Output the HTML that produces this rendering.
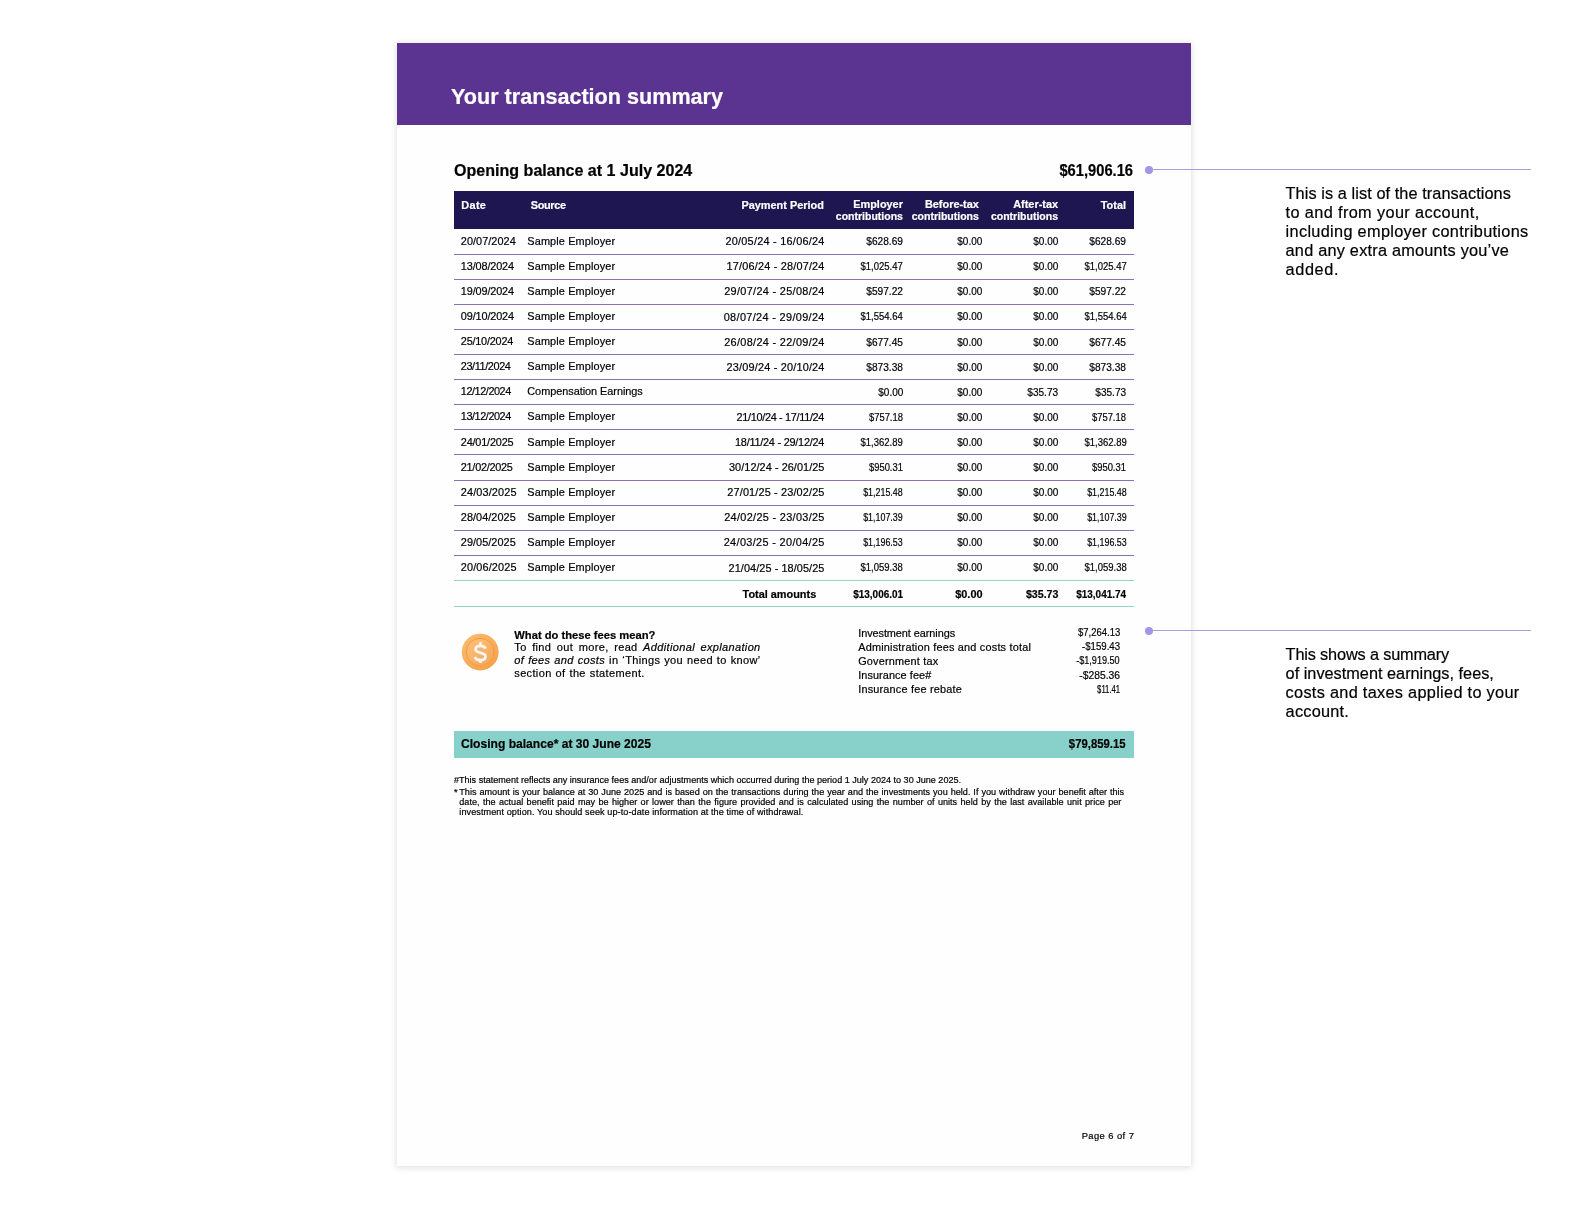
<!DOCTYPE html>
<html><head><meta charset="utf-8"><title>Your transaction summary</title>
<style>
html,body{margin:0;padding:0;background:#fff;}
body{width:1587px;height:1209px;position:relative;overflow:hidden;font-family:"Liberation Sans",sans-serif;color:#000;}
#w{position:absolute;left:0;top:0;width:1587px;height:1209px;will-change:transform;}
.page{position:absolute;left:397px;top:43px;width:794px;height:1123px;background:#fefefe;box-shadow:0 1px 6px 1px rgba(0,0,0,0.12);}
.t{position:absolute;white-space:nowrap;-webkit-text-stroke:0.2px currentColor;}
.r{position:absolute;}
</style></head><body><div id="w">
<div class="page"></div>
<div class="r" style="left:397px;top:43px;width:794px;height:82px;background:#5b3391;"></div>
<div class="t" style="top:86.02px;font-size:21.6px;line-height:21.6px;left:451.00px;font-weight:bold;color:#fff;">Your transaction summary</div>
<div class="t" style="top:162.00px;font-size:16.3px;line-height:16.3px;left:453.70px;transform:scaleX(0.9863);transform-origin:left center;font-weight:bold;">Opening balance at 1 July 2024</div>
<div class="t" style="top:162.09px;font-size:16.2px;line-height:16.2px;right:453.70px;transform:scaleX(0.9083);transform-origin:right center;font-weight:bold;">$61,906.16</div>
<div class="r" style="left:1149px;top:169.1px;width:382px;height:1px;background:#a89ce6;"></div>
<div class="r" style="left:1145px;top:165.6px;width:8px;height:8px;border-radius:50%;background:#a396e6"></div>
<div class="r" style="left:1149px;top:630.2px;width:382px;height:1px;background:#a89ce6;"></div>
<div class="r" style="left:1145px;top:626.7px;width:8px;height:8px;border-radius:50%;background:#a396e6"></div>
<div class="t" style="top:184.70px;font-size:16.3px;line-height:16.3px;left:1285.60px;letter-spacing:0.082px;">This is a list of the transactions</div>
<div class="t" style="top:203.73px;font-size:16.3px;line-height:16.3px;left:1285.60px;letter-spacing:0.374px;">to and from your account,</div>
<div class="t" style="top:222.76px;font-size:16.3px;line-height:16.3px;left:1285.60px;letter-spacing:0.323px;">including employer contributions</div>
<div class="t" style="top:241.79px;font-size:16.3px;line-height:16.3px;left:1285.60px;letter-spacing:0.225px;">and any extra amounts you’ve</div>
<div class="t" style="top:260.82px;font-size:16.3px;line-height:16.3px;left:1285.60px;letter-spacing:0.618px;">added.</div>
<div class="t" style="top:646.00px;font-size:16.3px;line-height:16.3px;left:1285.60px;letter-spacing:-0.152px;">This shows a summary</div>
<div class="t" style="top:665.03px;font-size:16.3px;line-height:16.3px;left:1285.60px;letter-spacing:0.005px;">of investment earnings, fees,</div>
<div class="t" style="top:684.06px;font-size:16.3px;line-height:16.3px;left:1285.60px;letter-spacing:0.304px;">costs and taxes applied to your</div>
<div class="t" style="top:703.09px;font-size:16.3px;line-height:16.3px;left:1285.60px;letter-spacing:0.234px;">account.</div>
<div class="r" style="left:453.5px;top:191.3px;width:680.5px;height:38.0px;background:#1e1650;"></div>
<div class="t" style="top:199.77px;font-size:10.9px;line-height:10.9px;left:461.30px;font-weight:bold;color:#fff;letter-spacing:0.33px;">Date</div>
<div class="t" style="top:199.77px;font-size:10.9px;line-height:10.9px;left:530.70px;font-weight:bold;color:#fff;letter-spacing:-0.304px;">Source</div>
<div class="t" style="top:199.77px;font-size:10.9px;line-height:10.9px;right:763.20px;font-weight:bold;color:#fff;">Payment Period</div>
<div class="t" style="top:198.87px;font-size:10.9px;line-height:10.9px;right:684.10px;font-weight:bold;color:#fff;">Employer</div>
<div class="t" style="top:210.71px;font-size:10.5px;line-height:10.5px;right:684.10px;font-weight:bold;color:#fff;">contributions</div>
<div class="t" style="top:198.87px;font-size:10.9px;line-height:10.9px;right:608.20px;font-weight:bold;color:#fff;">Before-tax</div>
<div class="t" style="top:210.71px;font-size:10.5px;line-height:10.5px;right:608.20px;font-weight:bold;color:#fff;">contributions</div>
<div class="t" style="top:198.87px;font-size:10.9px;line-height:10.9px;right:529.00px;font-weight:bold;color:#fff;">After-tax</div>
<div class="t" style="top:210.71px;font-size:10.5px;line-height:10.5px;right:529.00px;font-weight:bold;color:#fff;">contributions</div>
<div class="t" style="top:199.77px;font-size:10.9px;line-height:10.9px;right:461.00px;font-weight:bold;color:#fff;">Total</div>
<div class="t" style="top:235.77px;font-size:10.9px;line-height:10.9px;left:460.80px;letter-spacing:0.043px;">20/07/2024</div>
<div class="t" style="top:235.77px;font-size:10.9px;line-height:10.9px;left:527.30px;letter-spacing:0.139px;">Sample Employer</div>
<div class="t" style="top:236.27px;font-size:10.9px;line-height:10.9px;right:762.35px;letter-spacing:0.252px;">20/05/24 - 16/06/24</div>
<div class="t" style="top:236.11px;font-size:10.5px;line-height:10.5px;right:683.90px;transform:scaleX(0.9666);transform-origin:right center;">$628.69</div>
<div class="t" style="top:236.11px;font-size:10.5px;line-height:10.5px;right:604.60px;transform:scaleX(0.9512);transform-origin:right center;">$0.00</div>
<div class="t" style="top:236.11px;font-size:10.5px;line-height:10.5px;right:529.00px;transform:scaleX(0.9512);transform-origin:right center;">$0.00</div>
<div class="t" style="top:236.11px;font-size:10.5px;line-height:10.5px;right:460.70px;transform:scaleX(0.9666);transform-origin:right center;">$628.69</div>
<div class="r" style="left:453.5px;top:253.6px;width:680.5px;height:1.1px;background:#8c70b6;"></div>
<div class="t" style="top:260.87px;font-size:10.9px;line-height:10.9px;left:460.80px;letter-spacing:-0.135px;">13/08/2024</div>
<div class="t" style="top:260.87px;font-size:10.9px;line-height:10.9px;left:527.30px;letter-spacing:0.139px;">Sample Employer</div>
<div class="t" style="top:261.37px;font-size:10.9px;line-height:10.9px;right:762.42px;letter-spacing:0.185px;">17/06/24 - 28/07/24</div>
<div class="t" style="top:261.21px;font-size:10.5px;line-height:10.5px;right:683.90px;transform:scaleX(0.9033);transform-origin:right center;">$1,025.47</div>
<div class="t" style="top:261.21px;font-size:10.5px;line-height:10.5px;right:604.60px;transform:scaleX(0.9512);transform-origin:right center;">$0.00</div>
<div class="t" style="top:261.21px;font-size:10.5px;line-height:10.5px;right:529.00px;transform:scaleX(0.9512);transform-origin:right center;">$0.00</div>
<div class="t" style="top:261.21px;font-size:10.5px;line-height:10.5px;right:460.70px;transform:scaleX(0.9033);transform-origin:right center;">$1,025.47</div>
<div class="r" style="left:453.5px;top:278.7px;width:680.5px;height:1.1px;background:#8c70b6;"></div>
<div class="t" style="top:285.97px;font-size:10.9px;line-height:10.9px;left:460.80px;letter-spacing:-0.135px;">19/09/2024</div>
<div class="t" style="top:285.97px;font-size:10.9px;line-height:10.9px;left:527.30px;letter-spacing:0.139px;">Sample Employer</div>
<div class="t" style="top:286.47px;font-size:10.9px;line-height:10.9px;right:762.28px;letter-spacing:0.318px;">29/07/24 - 25/08/24</div>
<div class="t" style="top:286.31px;font-size:10.5px;line-height:10.5px;right:683.90px;transform:scaleX(0.9666);transform-origin:right center;">$597.22</div>
<div class="t" style="top:286.31px;font-size:10.5px;line-height:10.5px;right:604.60px;transform:scaleX(0.9512);transform-origin:right center;">$0.00</div>
<div class="t" style="top:286.31px;font-size:10.5px;line-height:10.5px;right:529.00px;transform:scaleX(0.9512);transform-origin:right center;">$0.00</div>
<div class="t" style="top:286.31px;font-size:10.5px;line-height:10.5px;right:460.70px;transform:scaleX(0.9666);transform-origin:right center;">$597.22</div>
<div class="r" style="left:453.5px;top:303.8px;width:680.5px;height:1.1px;background:#8c70b6;"></div>
<div class="t" style="top:311.07px;font-size:10.9px;line-height:10.9px;left:460.80px;letter-spacing:-0.135px;">09/10/2024</div>
<div class="t" style="top:311.07px;font-size:10.9px;line-height:10.9px;left:527.30px;letter-spacing:0.139px;">Sample Employer</div>
<div class="t" style="top:311.57px;font-size:10.9px;line-height:10.9px;right:762.25px;letter-spacing:0.346px;">08/07/24 - 29/09/24</div>
<div class="t" style="top:311.41px;font-size:10.5px;line-height:10.5px;right:683.90px;transform:scaleX(0.9033);transform-origin:right center;">$1,554.64</div>
<div class="t" style="top:311.41px;font-size:10.5px;line-height:10.5px;right:604.60px;transform:scaleX(0.9512);transform-origin:right center;">$0.00</div>
<div class="t" style="top:311.41px;font-size:10.5px;line-height:10.5px;right:529.00px;transform:scaleX(0.9512);transform-origin:right center;">$0.00</div>
<div class="t" style="top:311.41px;font-size:10.5px;line-height:10.5px;right:460.70px;transform:scaleX(0.9033);transform-origin:right center;">$1,554.64</div>
<div class="r" style="left:453.5px;top:328.9px;width:680.5px;height:1.1px;background:#8c70b6;"></div>
<div class="t" style="top:336.17px;font-size:10.9px;line-height:10.9px;left:460.80px;letter-spacing:-0.224px;">25/10/2024</div>
<div class="t" style="top:336.17px;font-size:10.9px;line-height:10.9px;left:527.30px;letter-spacing:0.139px;">Sample Employer</div>
<div class="t" style="top:336.67px;font-size:10.9px;line-height:10.9px;right:762.28px;letter-spacing:0.318px;">26/08/24 - 22/09/24</div>
<div class="t" style="top:336.51px;font-size:10.5px;line-height:10.5px;right:683.90px;transform:scaleX(0.9666);transform-origin:right center;">$677.45</div>
<div class="t" style="top:336.51px;font-size:10.5px;line-height:10.5px;right:604.60px;transform:scaleX(0.9512);transform-origin:right center;">$0.00</div>
<div class="t" style="top:336.51px;font-size:10.5px;line-height:10.5px;right:529.00px;transform:scaleX(0.9512);transform-origin:right center;">$0.00</div>
<div class="t" style="top:336.51px;font-size:10.5px;line-height:10.5px;right:460.70px;transform:scaleX(0.9666);transform-origin:right center;">$677.45</div>
<div class="r" style="left:453.5px;top:354.0px;width:680.5px;height:1.1px;background:#8c70b6;"></div>
<div class="t" style="top:361.27px;font-size:10.9px;line-height:10.9px;left:460.80px;letter-spacing:-0.4px;">23/11/2024</div>
<div class="t" style="top:361.27px;font-size:10.9px;line-height:10.9px;left:527.30px;letter-spacing:0.139px;">Sample Employer</div>
<div class="t" style="top:361.77px;font-size:10.9px;line-height:10.9px;right:762.42px;letter-spacing:0.185px;">23/09/24 - 20/10/24</div>
<div class="t" style="top:361.61px;font-size:10.5px;line-height:10.5px;right:683.90px;transform:scaleX(0.9666);transform-origin:right center;">$873.38</div>
<div class="t" style="top:361.61px;font-size:10.5px;line-height:10.5px;right:604.60px;transform:scaleX(0.9512);transform-origin:right center;">$0.00</div>
<div class="t" style="top:361.61px;font-size:10.5px;line-height:10.5px;right:529.00px;transform:scaleX(0.9512);transform-origin:right center;">$0.00</div>
<div class="t" style="top:361.61px;font-size:10.5px;line-height:10.5px;right:460.70px;transform:scaleX(0.9666);transform-origin:right center;">$873.38</div>
<div class="r" style="left:453.5px;top:379.1px;width:680.5px;height:1.1px;background:#8c70b6;"></div>
<div class="t" style="top:386.37px;font-size:10.9px;line-height:10.9px;left:460.80px;letter-spacing:-0.45px;">12/12/2024</div>
<div class="t" style="top:386.37px;font-size:10.9px;line-height:10.9px;left:527.30px;letter-spacing:-0.037px;">Compensation Earnings</div>
<div class="t" style="top:386.71px;font-size:10.5px;line-height:10.5px;right:683.90px;transform:scaleX(0.9512);transform-origin:right center;">$0.00</div>
<div class="t" style="top:386.71px;font-size:10.5px;line-height:10.5px;right:604.60px;transform:scaleX(0.9512);transform-origin:right center;">$0.00</div>
<div class="t" style="top:386.71px;font-size:10.5px;line-height:10.5px;right:529.00px;transform:scaleX(0.9603);transform-origin:right center;">$35.73</div>
<div class="t" style="top:386.71px;font-size:10.5px;line-height:10.5px;right:460.70px;transform:scaleX(0.9603);transform-origin:right center;">$35.73</div>
<div class="r" style="left:453.5px;top:404.2px;width:680.5px;height:1.1px;background:#8c70b6;"></div>
<div class="t" style="top:411.47px;font-size:10.9px;line-height:10.9px;left:460.80px;letter-spacing:-0.45px;">13/12/2024</div>
<div class="t" style="top:411.47px;font-size:10.9px;line-height:10.9px;left:527.30px;letter-spacing:0.139px;">Sample Employer</div>
<div class="t" style="top:411.97px;font-size:10.9px;line-height:10.9px;right:762.93px;letter-spacing:-0.325px;">21/10/24 - 17/11/24</div>
<div class="t" style="top:411.81px;font-size:10.5px;line-height:10.5px;right:683.90px;transform:scaleX(0.8968);transform-origin:right center;">$757.18</div>
<div class="t" style="top:411.81px;font-size:10.5px;line-height:10.5px;right:604.60px;transform:scaleX(0.9512);transform-origin:right center;">$0.00</div>
<div class="t" style="top:411.81px;font-size:10.5px;line-height:10.5px;right:529.00px;transform:scaleX(0.9512);transform-origin:right center;">$0.00</div>
<div class="t" style="top:411.81px;font-size:10.5px;line-height:10.5px;right:460.70px;transform:scaleX(0.8968);transform-origin:right center;">$757.18</div>
<div class="r" style="left:453.5px;top:429.3px;width:680.5px;height:1.1px;background:#8c70b6;"></div>
<div class="t" style="top:436.57px;font-size:10.9px;line-height:10.9px;left:460.80px;letter-spacing:-0.191px;">24/01/2025</div>
<div class="t" style="top:436.57px;font-size:10.9px;line-height:10.9px;left:527.30px;letter-spacing:0.139px;">Sample Employer</div>
<div class="t" style="top:437.07px;font-size:10.9px;line-height:10.9px;right:762.84px;letter-spacing:-0.236px;">18/11/24 - 29/12/24</div>
<div class="t" style="top:436.91px;font-size:10.5px;line-height:10.5px;right:683.90px;transform:scaleX(0.9033);transform-origin:right center;">$1,362.89</div>
<div class="t" style="top:436.91px;font-size:10.5px;line-height:10.5px;right:604.60px;transform:scaleX(0.9512);transform-origin:right center;">$0.00</div>
<div class="t" style="top:436.91px;font-size:10.5px;line-height:10.5px;right:529.00px;transform:scaleX(0.9512);transform-origin:right center;">$0.00</div>
<div class="t" style="top:436.91px;font-size:10.5px;line-height:10.5px;right:460.70px;transform:scaleX(0.9033);transform-origin:right center;">$1,362.89</div>
<div class="r" style="left:453.5px;top:454.4px;width:680.5px;height:1.1px;background:#8c70b6;"></div>
<div class="t" style="top:461.67px;font-size:10.9px;line-height:10.9px;left:460.80px;letter-spacing:-0.268px;">21/02/2025</div>
<div class="t" style="top:461.67px;font-size:10.9px;line-height:10.9px;left:527.30px;letter-spacing:0.139px;">Sample Employer</div>
<div class="t" style="top:462.17px;font-size:10.9px;line-height:10.9px;right:762.55px;letter-spacing:0.052px;">30/12/24 - 26/01/25</div>
<div class="t" style="top:462.01px;font-size:10.5px;line-height:10.5px;right:683.90px;transform:scaleX(0.8968);transform-origin:right center;">$950.31</div>
<div class="t" style="top:462.01px;font-size:10.5px;line-height:10.5px;right:604.60px;transform:scaleX(0.9512);transform-origin:right center;">$0.00</div>
<div class="t" style="top:462.01px;font-size:10.5px;line-height:10.5px;right:529.00px;transform:scaleX(0.9512);transform-origin:right center;">$0.00</div>
<div class="t" style="top:462.01px;font-size:10.5px;line-height:10.5px;right:460.70px;transform:scaleX(0.8968);transform-origin:right center;">$950.31</div>
<div class="r" style="left:453.5px;top:479.5px;width:680.5px;height:1.1px;background:#8c70b6;"></div>
<div class="t" style="top:486.77px;font-size:10.9px;line-height:10.9px;left:460.80px;letter-spacing:0.132px;">24/03/2025</div>
<div class="t" style="top:486.77px;font-size:10.9px;line-height:10.9px;left:527.30px;letter-spacing:0.139px;">Sample Employer</div>
<div class="t" style="top:487.27px;font-size:10.9px;line-height:10.9px;right:762.45px;letter-spacing:0.146px;">27/01/25 - 23/02/25</div>
<div class="t" style="top:487.11px;font-size:10.5px;line-height:10.5px;right:683.90px;transform:scaleX(0.8466);transform-origin:right center;">$1,215.48</div>
<div class="t" style="top:487.11px;font-size:10.5px;line-height:10.5px;right:604.60px;transform:scaleX(0.9512);transform-origin:right center;">$0.00</div>
<div class="t" style="top:487.11px;font-size:10.5px;line-height:10.5px;right:529.00px;transform:scaleX(0.9512);transform-origin:right center;">$0.00</div>
<div class="t" style="top:487.11px;font-size:10.5px;line-height:10.5px;right:460.70px;transform:scaleX(0.8466);transform-origin:right center;">$1,215.48</div>
<div class="r" style="left:453.5px;top:504.6px;width:680.5px;height:1.1px;background:#8c70b6;"></div>
<div class="t" style="top:511.87px;font-size:10.9px;line-height:10.9px;left:460.80px;letter-spacing:0.043px;">28/04/2025</div>
<div class="t" style="top:511.87px;font-size:10.9px;line-height:10.9px;left:527.30px;letter-spacing:0.139px;">Sample Employer</div>
<div class="t" style="top:512.37px;font-size:10.9px;line-height:10.9px;right:762.28px;letter-spacing:0.318px;">24/02/25 - 23/03/25</div>
<div class="t" style="top:512.21px;font-size:10.5px;line-height:10.5px;right:683.90px;transform:scaleX(0.8466);transform-origin:right center;">$1,107.39</div>
<div class="t" style="top:512.21px;font-size:10.5px;line-height:10.5px;right:604.60px;transform:scaleX(0.9512);transform-origin:right center;">$0.00</div>
<div class="t" style="top:512.21px;font-size:10.5px;line-height:10.5px;right:529.00px;transform:scaleX(0.9512);transform-origin:right center;">$0.00</div>
<div class="t" style="top:512.21px;font-size:10.5px;line-height:10.5px;right:460.70px;transform:scaleX(0.8466);transform-origin:right center;">$1,107.39</div>
<div class="r" style="left:453.5px;top:529.7px;width:680.5px;height:1.1px;background:#8c70b6;"></div>
<div class="t" style="top:536.97px;font-size:10.9px;line-height:10.9px;left:460.80px;letter-spacing:0.043px;">29/05/2025</div>
<div class="t" style="top:536.97px;font-size:10.9px;line-height:10.9px;left:527.30px;letter-spacing:0.139px;">Sample Employer</div>
<div class="t" style="top:537.47px;font-size:10.9px;line-height:10.9px;right:762.25px;letter-spacing:0.346px;">24/03/25 - 20/04/25</div>
<div class="t" style="top:537.31px;font-size:10.5px;line-height:10.5px;right:683.90px;transform:scaleX(0.8466);transform-origin:right center;">$1,196.53</div>
<div class="t" style="top:537.31px;font-size:10.5px;line-height:10.5px;right:604.60px;transform:scaleX(0.9512);transform-origin:right center;">$0.00</div>
<div class="t" style="top:537.31px;font-size:10.5px;line-height:10.5px;right:529.00px;transform:scaleX(0.9512);transform-origin:right center;">$0.00</div>
<div class="t" style="top:537.31px;font-size:10.5px;line-height:10.5px;right:460.70px;transform:scaleX(0.8466);transform-origin:right center;">$1,196.53</div>
<div class="r" style="left:453.5px;top:554.8px;width:680.5px;height:1.1px;background:#8c70b6;"></div>
<div class="t" style="top:562.07px;font-size:10.9px;line-height:10.9px;left:460.80px;letter-spacing:0.132px;">20/06/2025</div>
<div class="t" style="top:562.07px;font-size:10.9px;line-height:10.9px;left:527.30px;letter-spacing:0.139px;">Sample Employer</div>
<div class="t" style="top:562.57px;font-size:10.9px;line-height:10.9px;right:762.52px;letter-spacing:0.08px;">21/04/25 - 18/05/25</div>
<div class="t" style="top:562.41px;font-size:10.5px;line-height:10.5px;right:683.90px;transform:scaleX(0.9033);transform-origin:right center;">$1,059.38</div>
<div class="t" style="top:562.41px;font-size:10.5px;line-height:10.5px;right:604.60px;transform:scaleX(0.9512);transform-origin:right center;">$0.00</div>
<div class="t" style="top:562.41px;font-size:10.5px;line-height:10.5px;right:529.00px;transform:scaleX(0.9512);transform-origin:right center;">$0.00</div>
<div class="t" style="top:562.41px;font-size:10.5px;line-height:10.5px;right:460.70px;transform:scaleX(0.9033);transform-origin:right center;">$1,059.38</div>
<div class="r" style="left:453.5px;top:579.9px;width:680.5px;height:1.1px;background:#8fd3cd;"></div>
<div class="t" style="top:588.77px;font-size:10.9px;line-height:10.9px;right:770.80px;font-weight:bold;">Total amounts</div>
<div class="t" style="top:588.63px;font-size:10.6px;line-height:10.6px;right:683.80px;transform:scaleX(0.9391);transform-origin:right center;font-weight:bold;">$13,006.01</div>
<div class="t" style="top:588.63px;font-size:10.6px;line-height:10.6px;right:604.60px;transform:scaleX(1.0296);transform-origin:right center;font-weight:bold;">$0.00</div>
<div class="t" style="top:588.63px;font-size:10.6px;line-height:10.6px;right:529.00px;transform:scaleX(1.0029);transform-origin:right center;font-weight:bold;">$35.73</div>
<div class="t" style="top:588.63px;font-size:10.6px;line-height:10.6px;right:460.70px;transform:scaleX(0.9391);transform-origin:right center;font-weight:bold;">$13,041.74</div>
<div class="r" style="left:453.5px;top:606.4px;width:680.5px;height:1.1px;background:#8fd3cd;"></div>
<svg class="r" style="left:459px;top:631px" width="42" height="42" viewBox="0 0 42 42">
<defs>
<linearGradient id="cg1" x1="0.2" y1="0.1" x2="0.85" y2="0.95"><stop offset="0" stop-color="#fab86c"/><stop offset="1" stop-color="#f5a04a"/></linearGradient>
<linearGradient id="cg2" x1="0.2" y1="0.15" x2="0.85" y2="0.9"><stop offset="0" stop-color="#fcbd74"/><stop offset="1" stop-color="#f7a85a"/></linearGradient>
</defs>
<circle cx="21.2" cy="21.1" r="18.4" fill="url(#cg1)"/>
<circle cx="21.2" cy="21.1" r="13.8" fill="url(#cg2)" stroke="#f39a3c" stroke-width="1"/>
<g fill="none" stroke="#f5f7fb" stroke-width="2.7">
<path d="M26.6 17.6 C25.9 15.7 24 14.8 21.4 14.8 C18.5 14.8 16.6 16.3 16.6 18.3 C16.6 20.5 18.7 21.3 21.4 21.8 C24.3 22.3 26.5 23.3 26.5 25.6 C26.5 27.9 24.3 29.2 21.4 29.2 C18.6 29.2 16.5 28 15.9 26"/>
<path d="M21.4 11.1 V14.8 M21.4 29.2 V32.0" stroke-width="2.5"/>
</g>
</svg>
<div class="t" style="top:629.72px;font-size:11.2px;line-height:11.2px;left:514.30px;font-weight:bold;">What do these fees mean?</div>
<div class="t" style="left:514.30px;top:642.49px;width:246.30px;font-size:11.0px;line-height:11.0px;text-align:justify;text-align-last:justify;letter-spacing:0.35px;">To find out more, read <i>Additional explanation</i></div>
<div class="t" style="left:514.30px;top:655.39px;width:246.30px;font-size:11.0px;line-height:11.0px;text-align:justify;text-align-last:justify;letter-spacing:0.35px;"><i>of fees and costs</i> in ‘Things you need to know’</div>
<div class="t" style="left:514.30px;top:668.19px;width:246.30px;font-size:11.0px;line-height:11.0px;letter-spacing:0.35px;word-spacing:0.6px;">section of the statement.</div>
<div class="t" style="top:627.57px;font-size:10.9px;line-height:10.9px;left:858.20px;letter-spacing:-0.065px;">Investment earnings</div>
<div class="t" style="top:628.00px;font-size:10.4px;line-height:10.4px;right:466.90px;transform:scaleX(0.9127);transform-origin:right center;">$7,264.13</div>
<div class="t" style="top:641.67px;font-size:10.9px;line-height:10.9px;left:858.20px;letter-spacing:0.201px;">Administration fees and costs total</div>
<div class="t" style="top:642.10px;font-size:10.4px;line-height:10.4px;right:466.90px;transform:scaleX(0.9273);transform-origin:right center;">-$159.43</div>
<div class="t" style="top:655.97px;font-size:10.9px;line-height:10.9px;left:858.20px;letter-spacing:0.186px;">Government tax</div>
<div class="t" style="top:656.40px;font-size:10.4px;line-height:10.4px;right:466.90px;transform:scaleX(0.8765);transform-origin:right center;">-$1,919.50</div>
<div class="t" style="top:670.17px;font-size:10.9px;line-height:10.9px;left:858.20px;letter-spacing:0.08px;">Insurance fee#</div>
<div class="t" style="top:670.60px;font-size:10.4px;line-height:10.4px;right:466.90px;transform:scaleX(0.9919);transform-origin:right center;">-$285.36</div>
<div class="t" style="top:684.37px;font-size:10.9px;line-height:10.9px;left:858.20px;letter-spacing:0.194px;">Insurance fee rebate</div>
<div class="t" style="top:684.80px;font-size:10.4px;line-height:10.4px;right:466.90px;transform:scaleX(0.7383);transform-origin:right center;">$11.41</div>
<div class="r" style="left:453.5px;top:731.2px;width:680.5px;height:26.5px;background:#87d1ca;"></div>
<div class="t" style="top:738.42px;font-size:12.5px;line-height:12.5px;left:460.70px;transform:scaleX(0.9663);transform-origin:left center;font-weight:bold;">Closing balance* at 30 June 2025</div>
<div class="t" style="top:738.42px;font-size:12.5px;line-height:12.5px;right:461.30px;transform:scaleX(0.9063);transform-origin:right center;font-weight:bold;">$79,859.15</div>
<div class="t" style="top:775.63px;font-size:9.06px;line-height:9.06px;left:454.00px;letter-spacing:0.005px;">#This statement reflects any insurance fees and/or adjustments which occurred during the period 1 July 2024 to 30 June 2025.</div>
<div class="t" style="top:787.90px;font-size:9.1px;line-height:9.1px;left:454.00px;">*</div>
<div class="t" style="left:459.30px;top:787.90px;width:664.80px;font-size:9.1px;line-height:9.1px;text-align:justify;text-align-last:justify;">This amount is your balance at 30 June 2025 and is based on the transactions during the year and the investments you held. If you withdraw your benefit after this</div>
<div class="t" style="left:459.30px;top:798.00px;width:662.00px;font-size:9.1px;line-height:9.1px;text-align:justify;text-align-last:justify;">date, the actual benefit paid may be higher or lower than the figure provided and is calculated using the number of units held by the last available unit price per</div>
<div class="t" style="top:807.90px;font-size:9.1px;line-height:9.1px;left:459.30px;letter-spacing:0.082px;">investment option. You should seek up-to-date information at the time of withdrawal.</div>
<div class="t" style="top:1130.84px;font-size:9.4px;line-height:9.4px;right:452.67px;letter-spacing:0.433px;">Page 6 of 7</div>
</div></body></html>
